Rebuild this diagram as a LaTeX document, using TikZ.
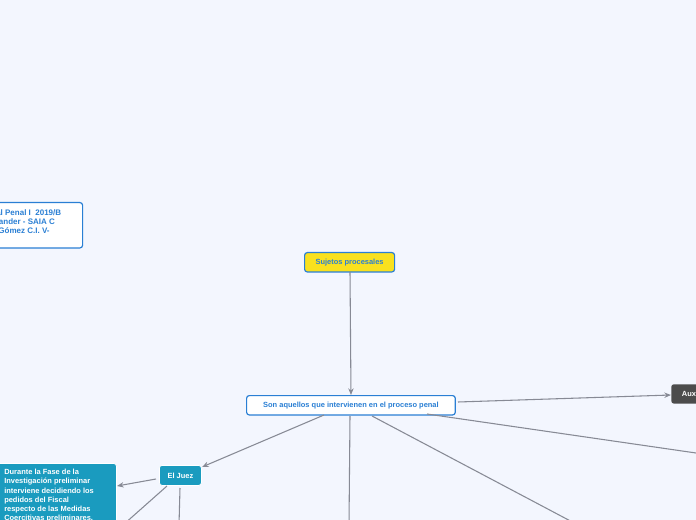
\documentclass[tikz,border=0pt]{standalone}
\usepackage{fontspec}
\setmainfont{Liberation Sans}
\usetikzlibrary{arrows.meta}
\definecolor{bg}{HTML}{F3F6FE}
\definecolor{bl}{HTML}{2A7FD4}
\definecolor{teal}{HTML}{1A9BBF}
\definecolor{yel}{HTML}{F9E11E}
\definecolor{ln}{HTML}{878A95}
\begin{document}
\begin{tikzpicture}[x=0.75pt,y=-0.75pt,
 box/.style={rounded corners=2pt,font=\bfseries\fontsize{5.6}{6.6}\selectfont,inner sep=0pt,anchor=north west},
 wbox/.style={box,draw=bl,line width=0.9pt,fill=white,text=bl},
 tbox/.style={box,fill=teal,text=white,draw=white,line width=0.6pt},
 con/.style={draw=ln,line width=0.8pt,-{Stealth[length=5pt,width=4pt]}},
 pl/.style={draw=ln,line width=0.8pt}]
\useasboundingbox (0,0) rectangle (696,520);
\clip (0,0) rectangle (696,520);
\fill[bg] (0,0) rectangle (696,520);
\node[wbox,minimum width=90pt,minimum height=34pt] (tl) at (-38,202) {};
\node[font=\bfseries\fontsize{6}{6.8}\selectfont,text=bl,align=left,anchor=north west,inner sep=0pt] at (-4,209) {al Penal I\ \ 2019/B\\tander - SAIA C\\\ Gómez C.I. V-};
\node[wbox,fill=yel,minimum width=67.5pt,minimum height=14.5pt] (s) at (304,252) {Sujetos procesales};
\node[wbox,minimum width=156.5pt,minimum height=14.5pt] (m) at (246,395) {Son aquellos que intervienen en el proceso penal};
\node[box,fill=black!70,text=white,minimum width=40pt,minimum height=14.5pt,align=left,text width=36pt] (aux) at (671,384) {\hspace*{6pt}Auxi};
\node[tbox,minimum width=31.5pt,minimum height=15pt] (j) at (159,465) {El Juez};
\node[tbox,minimum width=90pt,minimum height=60pt] (d) at (-4,463) {};
\node[font=\bfseries\fontsize{5.6}{6.9}\selectfont,text=white,align=left,anchor=north west,inner sep=0pt] at (4,469) {Durante la Fase de la\\Investigación preliminar\\interviene decidiendo los\\pedidos del Fiscal\\respecto de las Medidas\\Coercitivas preliminares.};
\coordinate (e1) at (696,453);
\coordinate (e2) at (349,525);
\coordinate (e3) at (578,525);
\coordinate (e4) at (123,525);
\coordinate (e5) at (179,525);
\draw[con] (350,272) -- (351,395);
\draw[con] (458,402) -- (671,395);
\draw[pl] (427,414) -- (e1);
\draw[pl] (350,416) -- (e2);
\draw[pl] (372,416) -- (e3);
\draw[con] (324,415) -- (202,467);
\draw[con] (156,479) -- (117,486);
\draw[pl] (167,486) -- (e4);
\draw[pl] (180,488) -- (e5);
\end{tikzpicture}
\end{document}
